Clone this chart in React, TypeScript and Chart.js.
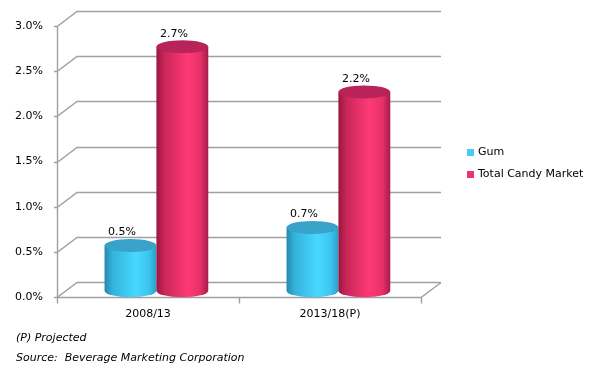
import React, { useEffect, useRef } from "react";
import { Chart, registerables } from "chart.js";

Chart.register(...registerables);

const categories = ["2008/13", "2013/18(P)"];
const gumValues = [0.5, 0.7];
const candyValues = [2.7, 2.2];
const seriesNames = ["Gum", "Total Candy Market"];
const yTicks = [0, 0.5, 1.0, 1.5, 2.0, 2.5, 3.0];
const footnotes = ["(P) Projected", "Source:  Beverage Marketing Corporation"];

const FONT = "'DejaVu Sans', Verdana, sans-serif";
const DEPTH_X = 20;
const DEPTH_Y = -15;
const BAR_SHIFT = 0.42;

const palettes = [
  {
    legend: "#44ccfa",
    cap: "#38a2c8",
    stops: [
      [0, "#2588ad"],
      [0.15, "#33b2da"],
      [0.6, "#48d8ff"],
      [0.85, "#3cc6ef"],
      [1, "#2c9ec8"],
    ],
  },
  {
    legend: "#ee3370",
    cap: "#b8245a",
    stops: [
      [0, "#98173f"],
      [0.15, "#c82659"],
      [0.6, "#ff3a75"],
      [0.85, "#e63067"],
      [1, "#a61b4b"],
    ],
  },
];

const threeD = {
  id: "threeD",
  beforeDatasetsDraw(chart: any) {
    const { ctx, chartArea } = chart;
    const ys = chart.scales.y;
    const L = chartArea.left;
    const R = chartArea.right;
    const B = chartArea.bottom;
    ctx.save();
    ctx.strokeStyle = "#a0a0a0";
    ctx.lineWidth = 1.4;
    // grid lines with back wall
    yTicks.forEach((v) => {
      const y = Math.round(ys.getPixelForValue(v)) + 0.5;
      ctx.beginPath();
      ctx.moveTo(L - 3, y);
      ctx.lineTo(L, y);
      ctx.lineTo(L + DEPTH_X, y + DEPTH_Y);
      ctx.lineTo(R + DEPTH_X, y + DEPTH_Y);
      ctx.stroke();
    });
    // front vertical axis
    const top = Math.round(ys.getPixelForValue(3)) + 0.5;
    const bot = Math.round(B) + 0.5;
    ctx.beginPath();
    ctx.moveTo(Math.round(L) + 0.5, top);
    ctx.lineTo(Math.round(L) + 0.5, bot);
    ctx.stroke();
    // floor front edge and right diagonal
    ctx.beginPath();
    ctx.moveTo(L, bot);
    ctx.lineTo(R, bot);
    ctx.lineTo(R + DEPTH_X, bot + DEPTH_Y);
    ctx.stroke();
    // category tick marks
    const n = categories.length;
    for (let i = 0; i <= n; i++) {
      const x = Math.round(L + ((R - L) * i) / n) + 0.5;
      ctx.beginPath();
      ctx.moveTo(x, bot);
      ctx.lineTo(x, bot + 6);
      ctx.stroke();
    }

    // cylinders
    const sx = DEPTH_X * BAR_SHIFT;
    const sy = DEPTH_Y * BAR_SHIFT;
    const labels: any[] = [];
    chart.data.datasets.forEach((ds: any, di: number) => {
      const meta = chart.getDatasetMeta(di);
      const pal = palettes[di];
      meta.data.forEach((el: any, i: number) => {
        const p = el.getProps(["x", "y", "base", "width"], true);
        const cx = p.x + sx;
        const topY = p.y + sy;
        const baseY = p.base + sy;
        const rx = p.width / 2;
        const ry = 6.5;
        const left = cx - rx;
        const right = cx + rx;
        const g = ctx.createLinearGradient(left, 0, right, 0);
        pal.stops.forEach((s: any) => g.addColorStop(s[0], s[1]));
        ctx.beginPath();
        ctx.moveTo(left, topY);
        ctx.lineTo(left, baseY);
        ctx.ellipse(cx, baseY, rx, ry, 0, Math.PI, 0, true);
        ctx.lineTo(right, topY);
        ctx.closePath();
        ctx.fillStyle = g;
        ctx.fill();
        ctx.beginPath();
        ctx.ellipse(cx, topY, rx, ry, 0, 0, Math.PI * 2);
        ctx.fillStyle = pal.cap;
        ctx.fill();
        labels.push({ x: p.x, y: topY - 13, text: ds.data[i].toFixed(1) + "%" });
      });
    });
    ctx.fillStyle = "#000";
    ctx.font = "11px " + FONT;
    ctx.textAlign = "center";
    ctx.textBaseline = "middle";
    labels.forEach((l) => ctx.fillText(l.text, l.x, l.y));

    // legend
    ctx.textAlign = "left";
    const legY = [152, 174];
    chart.data.datasets.forEach((ds: any, di: number) => {
      ctx.fillStyle = palettes[di].legend;
      ctx.fillRect(467, legY[di] - 3, 7, 7);
      ctx.fillStyle = "#000";
      ctx.fillText(ds.label, 478, legY[di]);
    });

    // footnotes
    ctx.font = "italic 11px " + FONT;
    ctx.fillText(footnotes[0], 16, 338);
    ctx.fillText(footnotes[1], 16, 358);
    ctx.restore();
    return false;
  },
};

export default function App() {
  const ref = useRef<HTMLCanvasElement | null>(null);
  useEffect(() => {
    if (!ref.current) return;
    const chart = new Chart(ref.current, {
      type: "bar",
      data: {
        labels: categories,
        datasets: [
          { label: seriesNames[0], data: gumValues, backgroundColor: palettes[0].legend },
          { label: seriesNames[1], data: candyValues, backgroundColor: palettes[1].legend },
        ],
      },
      options: {
        animation: false,
        responsive: true,
        maintainAspectRatio: false,
        layout: { padding: { left: 0, top: 26, right: 178, bottom: 0 } },
        datasets: { bar: { categoryPercentage: 0.57, barPercentage: 1 } },
        plugins: { legend: { display: false }, tooltip: { enabled: false } },
        scales: {
          x: {
            grid: { display: false, drawTicks: false },
            border: { display: false },
            ticks: { color: "#000", font: { family: FONT, size: 11 }, padding: 11, maxRotation: 0 },
            afterFit: (s: any) => {
              s.height = 73;
            },
          },
          y: {
            min: 0,
            max: 3,
            grid: { display: false, drawTicks: false },
            border: { display: false },
            ticks: {
              stepSize: 0.5,
              color: "#000",
              font: { family: FONT, size: 11 },
              padding: 14,
              callback: (v: any) => Number(v).toFixed(1) + "%",
            },
            afterFit: (s: any) => {
              s.width = 57;
            },
          },
        },
      },
      plugins: [threeD],
    });
    return () => chart.destroy();
  }, []);
  return (
    <div style={{ position: "fixed", left: 0, top: 0, width: 599, height: 370, background: "#fff" }}>
      <canvas ref={ref} />
    </div>
  );
}
